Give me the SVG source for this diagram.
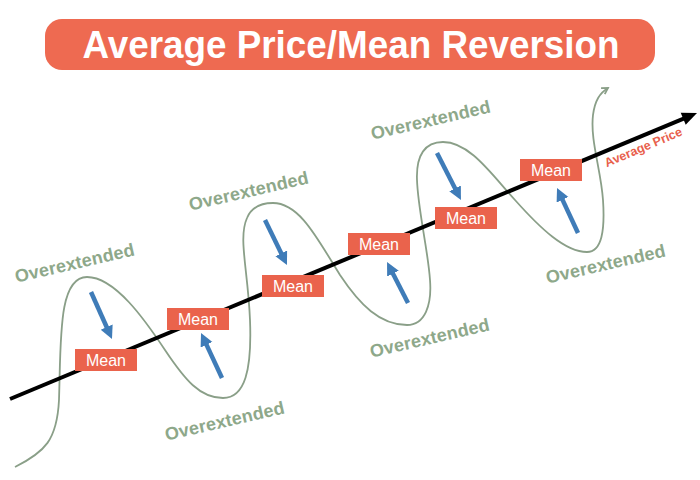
<svg xmlns="http://www.w3.org/2000/svg" width="700" height="480" viewBox="0 0 700 480">
<defs>
<style>
.over{font-family:"Liberation Sans",Arial,sans-serif;font-weight:bold;font-size:18px;fill:#8ea88a;text-anchor:middle}
.mbox{fill:#ea634c}
.mtxt{font-family:"Liberation Sans",Arial,sans-serif;font-size:16px;fill:#ffffff;text-anchor:middle}
.blue{stroke:#3f7cb8;stroke-width:4.5;fill:none}
</style>
<marker id="bh" markerUnits="userSpaceOnUse" markerWidth="16" markerHeight="16" refX="1" refY="6.5" orient="auto">
<path d="M0,0 L13,6.5 L0,13 z" fill="#3f7cb8"/>
</marker>
<marker id="gh" markerUnits="userSpaceOnUse" markerWidth="12" markerHeight="12" refX="7" refY="4" orient="auto">
<path d="M1,0.5 L7,4 L1,7.5" fill="none" stroke="#8a9f88" stroke-width="1.8"/>
</marker>
</defs>
<rect width="700" height="480" fill="#ffffff"/>
<g id="title">
<rect x="45" y="19" width="610" height="51" rx="17" fill="#ee6a51"/>
<text x="351" y="57.5" font-family="'Liberation Sans',Arial,sans-serif" font-weight="bold" font-size="39" fill="#ffffff" text-anchor="middle" textLength="537" lengthAdjust="spacingAndGlyphs">Average Price/Mean Reversion</text>
</g>
<g id="connectors">
<path id="price-curve" d="M15,467 C45,452 57,440 59,400 C61,340 58,277 87,277 C115,277 145,320 165,350 C185,380 200,398 223,398 C245,398 252,370 250,320 C248,270 238,238 247,218 C252,206 262,203 273,203 C300,203 318,240 340,275 C360,305 380,325 407,325 C425,325 432,305 430,280 C428,250 418,210 417,180 C416,155 425,142 443,142 C470,142 492,175 515,200 C540,228 565,252 587,252 C602,252 605,230 603,200 C601,170 590,140 593,115 C595,100 600,93 608,88" fill="none" stroke="#8a9f88" stroke-width="1.8" marker-end="url(#gh)"/>
<line x1="10" y1="399" x2="686" y2="117.7" stroke="#000000" stroke-width="4"/>
<polygon points="697,113 685.7,124.8 680.7,112.8" fill="#000000"/>
<line class="blue" x1="91" y1="292" x2="107.1" y2="328" marker-end="url(#bh)"/>
<line class="blue" x1="222" y1="378" x2="206.1" y2="343.9" marker-end="url(#bh)"/>
<line class="blue" x1="265" y1="220" x2="281.7" y2="254.2" marker-end="url(#bh)"/>
<line class="blue" x1="408" y1="303" x2="392.5" y2="272.7" marker-end="url(#bh)"/>
<line class="blue" x1="437" y1="153" x2="455.5" y2="189.3" marker-end="url(#bh)"/>
<line class="blue" x1="578" y1="233" x2="562.1" y2="198.9" marker-end="url(#bh)"/>
</g>
<g id="avg-price-label">
<text x="645" y="151" transform="rotate(-23 645 151)" font-family="'Liberation Sans',Arial,sans-serif" font-weight="bold" font-size="12.5" fill="#e8604c" text-anchor="middle">Average Price</text>
</g>
<g id="mean1"><rect class="mbox" x="75" y="349" width="62" height="22"/><text class="mtxt" x="106" y="366">Mean</text></g>
<g id="mean2"><rect class="mbox" x="167" y="308" width="62" height="22"/><text class="mtxt" x="198" y="325">Mean</text></g>
<g id="mean3"><rect class="mbox" x="262" y="275" width="62" height="22"/><text class="mtxt" x="293" y="292">Mean</text></g>
<g id="mean4"><rect class="mbox" x="348" y="233" width="62" height="22"/><text class="mtxt" x="379" y="250">Mean</text></g>
<g id="mean5"><rect class="mbox" x="435" y="207" width="62" height="22"/><text class="mtxt" x="466" y="224">Mean</text></g>
<g id="mean6"><rect class="mbox" x="520" y="159" width="62" height="22"/><text class="mtxt" x="551" y="176">Mean</text></g>
<g id="over1"><text class="over" x="76" y="269" transform="rotate(-13 76 269)" textLength="122">Overextended</text></g>
<g id="over2"><text class="over" x="226" y="427" transform="rotate(-13 226 427)" textLength="122">Overextended</text></g>
<g id="over3"><text class="over" x="250" y="197" transform="rotate(-13 250 197)" textLength="122">Overextended</text></g>
<g id="over4"><text class="over" x="431" y="344" transform="rotate(-13 431 344)" textLength="122">Overextended</text></g>
<g id="over5"><text class="over" x="432" y="126" transform="rotate(-13 432 126)" textLength="122">Overextended</text></g>
<g id="over6"><text class="over" x="607" y="270" transform="rotate(-13 607 270)" textLength="122">Overextended</text></g>
</svg>
